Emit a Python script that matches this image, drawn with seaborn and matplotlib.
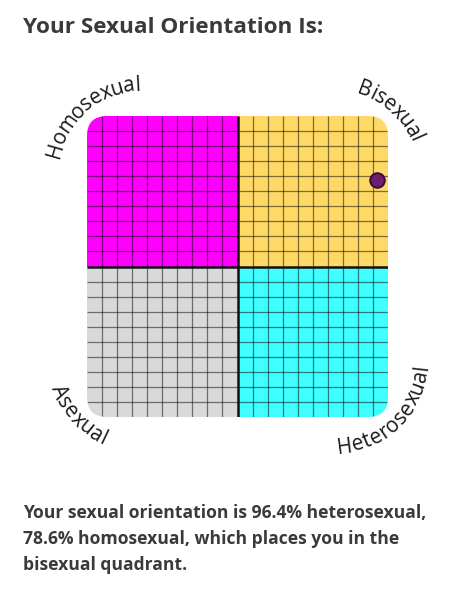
import numpy as np
import pandas as pd
import matplotlib
matplotlib.use("Agg")
import matplotlib.pyplot as plt
import seaborn as sns
from matplotlib.colors import ListedColormap
from matplotlib.patches import FancyBboxPatch
from matplotlib.font_manager import FontProperties

# quadrant layout (top-left, top-right, bottom-left, bottom-right)
quadrants = ["Homosexual", "Bisexual", "Asexual", "Heterosexual"]
quadrant_colors = ["#ff00ff", "#ffd966", "#d9d9d9", "#40ffff"]
label_angles = [130, 48, 222, 314]   # where each label sits on its arc
cells_per_side = 10

# the result
heterosexual_pct = 96.4
homosexual_pct = 78.6

title = "Your Sexual Orientation Is:"
summary_lines = ["Your sexual orientation is 96.4% heterosexual,",
                 "78.6% homosexual, which places you in the",
                 "bisexual quadrant."]

sns.set_theme(style="white")
plt.rcParams["font.family"] = ["Open Sans", "DejaVu Sans"]

W, H = 474, 593
fig = plt.figure(figsize=(W / 100, H / 100), dpi=100)

# grid square in pixels (top-left origin)
gx0, gy0, gsize = 87, 116, 301
ax = fig.add_axes([gx0 / W, (H - gy0 - gsize) / H, gsize / W, gsize / H])

n = cells_per_side
grid = np.zeros((2 * n, 2 * n), dtype=int)
grid[:n, n:] = 1
grid[n:, :n] = 2
grid[n:, n:] = 3
sns.heatmap(pd.DataFrame(grid), cmap=ListedColormap(quadrant_colors), vmin=-0.5, vmax=3.5,
            cbar=False, xticklabels=False, yticklabels=False, ax=ax)

clip = FancyBboxPatch((0, 0), 2 * n, 2 * n, boxstyle="round,pad=0,rounding_size=1.35",
                      transform=ax.transData, facecolor="none", edgecolor="none")
ax.add_patch(clip)
ax.collections[0].set_clip_path(clip)

inner = [i for i in range(1, 2 * n) if i != n]
vl = ax.vlines(inner, 0, 2 * n, colors="#000000", alpha=0.5, linewidth=0.9)
hl = ax.hlines(inner, 0, 2 * n, colors="#000000", alpha=0.5, linewidth=0.9)
cv = ax.vlines([n], 0, 2 * n, colors="#111111", linewidth=1.8)
ch = ax.hlines([n], 0, 2 * n, colors="#111111", linewidth=1.8)
for art in (vl, hl, cv, ch):
    art.set_clip_path(clip)

# result point: percent -> grid coordinates
px = n + (heterosexual_pct - 50) / 50 * n
py = n - (homosexual_pct - 50) / 50 * n
sns.scatterplot(x=[px], y=[py], ax=ax, s=110, color="#6d1f6f",
                edgecolor="#3a0a3a", linewidth=1.4, zorder=5, legend=False)
ax.set_xlim(0, 2 * n)
ax.set_ylim(2 * n, 0)
ax.axis("off")

# curved quadrant labels, each on its own arc near its corner
gcx, gcy = gx0 + gsize / 2, gy0 + gsize / 2
arc_dx, arc_dy, radius = 95.5, 91.5, 90
label_font = FontProperties(family="Open Sans", size=15)
renderer = fig.canvas.get_renderer()


def text_width(s):
    if not s:
        return 0.0
    w, _, _ = renderer.get_text_width_height_descent(s, label_font, ismath=False)
    return w


for k, (name, ang) in enumerate(zip(quadrants, label_angles)):
    cx = gcx + (arc_dx if k % 2 else -arc_dx)
    cy = gcy + (arc_dy if k >= 2 else -arc_dy)
    total = text_width(name)
    top = k < 2
    for i, ch_ in enumerate(name):
        mid = (text_width(name[:i]) + text_width(name[:i + 1])) / 2 - total / 2
        dtheta = np.degrees(mid / radius)
        theta = ang - dtheta if top else ang + dtheta
        t = np.radians(theta)
        x = cx + radius * np.cos(t)
        y = cy - radius * np.sin(t)
        rot = theta - 90 if top else theta + 90
        fig.text(x / W, (H - y) / H, ch_, fontproperties=label_font, color="#1a1a1a",
                 rotation=rot, rotation_mode="anchor", ha="center", va="center")

fig.text(23 / W, 1 - 33 / H, title, fontsize=16.2, fontweight="bold",
         color="#3a3a3a", ha="left", va="baseline")
for j, line in enumerate(summary_lines):
    fig.text(23 / W, 1 - (517.5 + 26 * j) / H, line, fontsize=12.6, fontweight="bold",
             color="#3a3a3a", ha="left", va="baseline")

fig.savefig("out.png", dpi=100, facecolor="white")
